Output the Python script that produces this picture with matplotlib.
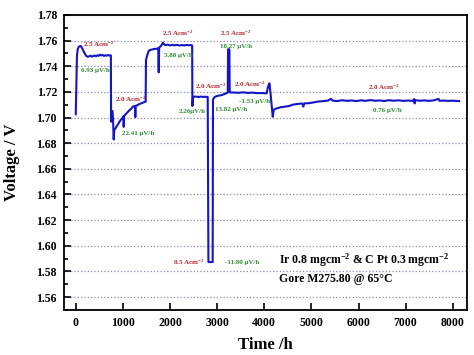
import numpy as np
import matplotlib.pyplot as plt
from matplotlib.ticker import MultipleLocator

plt.rcParams['font.family'] = 'Liberation Serif'
plt.rcParams['font.weight'] = 'bold'
plt.rcParams['mathtext.fontset'] = 'custom'
plt.rcParams['mathtext.rm'] = 'Liberation Serif:bold'
plt.rcParams['mathtext.default'] = 'rm'

# durability trace (time in h, voltage in V)
time_h = [0, 10, 25, 40, 60, 80, 106, 130, 160, 190, 220, 254, 280, 310, 340, 370, 400,
          430, 460, 490, 510, 540, 570, 600, 630, 660, 690, 720, 745,
          750, 760, 780, 790, 805, 815, 850, 900, 950, 1000, 1010, 1017, 1025, 1070, 1120,
          1180, 1210, 1255, 1264, 1272, 1300, 1350, 1400, 1450, 1483,
          1490, 1520, 1550, 1580, 1620, 1660, 1700, 1750, 1760, 1770, 1800, 1830, 1850, 1870,
          1900, 1950, 2000, 2050, 2100, 2150, 2200, 2250, 2300, 2350, 2400, 2440, 2470,
          2475, 2490, 2550, 2600, 2650, 2700, 2750, 2800,
          2815, 2860, 2905,
          2912, 2945, 3000, 3100, 3200, 3225, 3232, 3260, 3267, 3350, 3450, 3550, 3650, 3750,
          3850, 3950, 4050, 4080, 4110, 4130, 4170, 4180, 4200, 4252, 4300, 4350, 4450, 4534,
          4600, 4700, 4800, 4830, 4850, 4950, 5050, 5150, 5250, 5350, 5417, 5450, 5550, 5650,
          5750, 5850, 5950, 6050, 6150, 6250, 6350, 6450, 6550, 6650, 6750, 6850, 6950, 7050,
          7150, 7182, 7190, 7200, 7300, 7400, 7500, 7600, 7700, 7720, 7800, 7900, 8000, 8135]
voltage = [1.7026, 1.720, 1.748, 1.753, 1.755, 1.7555, 1.7558, 1.7545, 1.752, 1.750, 1.748,
           1.7474, 1.7476, 1.7482, 1.7475, 1.748, 1.7483, 1.7478, 1.7485, 1.7481, 1.749,
           1.7484, 1.7488, 1.748, 1.7486, 1.7482, 1.7487, 1.7483, 1.7485,
           1.6967, 1.705, 1.705, 1.699, 1.6829, 1.690, 1.692, 1.695, 1.698, 1.700, 1.701,
           1.6927, 1.701, 1.703, 1.705, 1.707, 1.7085, 1.709, 1.7003, 1.709, 1.7095, 1.7105,
           1.7112, 1.712, 1.7123,
           1.7448, 1.749, 1.752, 1.7527, 1.753, 1.7535, 1.7535, 1.754, 1.7352, 1.7545, 1.7555,
           1.757, 1.7584, 1.7572, 1.7565, 1.7568, 1.7562, 1.7566, 1.7563, 1.7567, 1.7561,
           1.7565, 1.7562, 1.7566, 1.7563, 1.7565, 1.7562,
           1.709, 1.7162, 1.7163, 1.7160, 1.7163, 1.7161, 1.7162, 1.7160,
           1.5873, 1.5873, 1.5873,
           1.714, 1.716, 1.7168, 1.7175, 1.719, 1.7195, 1.7532, 1.7532, 1.7196, 1.7195,
           1.7193, 1.7196, 1.7192, 1.7194, 1.7190, 1.7191, 1.7188, 1.724, 1.7266, 1.7200,
           1.705, 1.7006, 1.706, 1.707, 1.7075, 1.708, 1.7085, 1.709,
           1.710, 1.7105, 1.711, 1.7085, 1.711, 1.7112, 1.7118, 1.7125, 1.7128, 1.7132,
           1.7145, 1.7132, 1.7128, 1.7135, 1.7130, 1.7133, 1.7128, 1.7134, 1.7130, 1.7136,
           1.7131, 1.7133, 1.7129, 1.7135, 1.7131, 1.7134, 1.7130, 1.7132, 1.7130, 1.7144,
           1.7110, 1.7135, 1.7131, 1.7133, 1.7130, 1.7134, 1.7145, 1.7130, 1.7132, 1.7130,
           1.7131, 1.7128]

# current density labels (red) and degradation rates (green)
current_labels = ['2.5 Acm$^{-2}$', '2.0 Acm$^{-2}$', '2.5 Acm$^{-2}$', '2.0 Acm$^{-2}$',
                  '2.5 Acm$^{-2}$', '2.0 Acm$^{-2}$', '2.0 Acm$^{-2}$', '0.5 Acm$^{-2}$']
current_t = [487, 1165, 2161, 2860, 3400, 3700, 6546, 2405]
current_v = [1.7573, 1.7144, 1.7660, 1.7245, 1.7660, 1.7258, 1.7235, 1.5873]

rate_labels = ['6.93 μV/h', '22.41 μV/h', '5.88 μV/h', '2.26μV/h', '18.27 μV/h',
               '13.82 μV/h', '-1.53 μV/h', '0.76 μV/h', '-11.80 μV/h']
rate_t = [413, 1324, 2170, 2468, 3411, 3305, 3792, 6620, 3540]
rate_v = [1.7370, 1.6878, 1.7480, 1.7050, 1.7550, 1.7066, 1.7128, 1.7053, 1.5873]

fig = plt.figure(figsize=(4.74, 3.55), dpi=100)
ax = fig.add_axes([0.135, 0.127, 0.85, 0.831])

ax.plot(time_h, voltage, color='#1414c8', lw=1.5, zorder=3)

for s, t, v in zip(current_labels, current_t, current_v):
    ax.text(t, v, s, color='#b8262b', fontsize=5, ha='center', va='center')
for s, t, v in zip(rate_labels, rate_t, rate_v):
    ax.text(t, v, s, color='#2e8b2e', fontsize=5, ha='center', va='center')

ax.text(4322, 1.5886, 'Ir 0.8 mgcm$^{-2}$ & C Pt 0.3 mgcm$^{-2}$', fontsize=8.5,
        ha='left', va='center')
ax.text(4322, 1.5743, 'Gore M275.80 @ 65°C', fontsize=8.5, ha='left', va='center')

ax.set_xlim(-250, 8300)
ax.set_ylim(1.55, 1.78)
ax.xaxis.set_major_locator(MultipleLocator(1000))
ax.yaxis.set_major_locator(MultipleLocator(0.02))
ax.yaxis.set_minor_locator(MultipleLocator(0.01))
ax.yaxis.set_major_formatter(plt.FormatStrFormatter('%.2f'))
ax.tick_params(which='both', direction='in', top=False, right=False, labelsize=8.5, width=1.2)
ax.tick_params(which='major', length=5, pad=5)
ax.tick_params(which='minor', length=3)
ax.grid(axis='y', which='major', linestyle=':', color='#8a8ab0', lw=0.9)
for sp in ax.spines.values():
    sp.set_linewidth(1.3)

ax.set_xlabel('Time /h', fontsize=12, fontweight='bold', labelpad=6)
ax.set_ylabel('Voltage / V', fontsize=12, fontweight='bold', labelpad=12)

fig.savefig('out.png', dpi=100)
